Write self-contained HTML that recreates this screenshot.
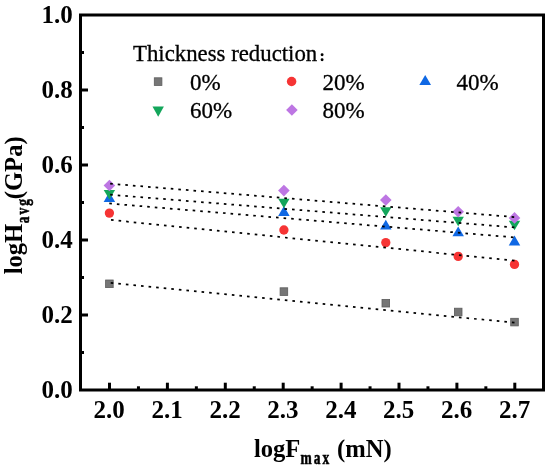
<!DOCTYPE html>
<html><head><meta charset="utf-8"><style>
html,body{margin:0;padding:0;background:#fff;width:550px;height:468px;overflow:hidden}
svg{display:block;will-change:transform}
.tl{font-family:"Liberation Serif",serif;font-weight:bold;font-size:25px;fill:#000}
.lg{font-family:"Liberation Serif",serif;font-size:23px;fill:#000}
.tt{font-family:"Liberation Serif",serif;font-weight:bold;font-size:24.6px;fill:#000}
.sub{font-family:"Liberation Serif",serif;font-weight:bold;font-size:18.5px;fill:#000;stroke:#000;stroke-width:0.35px}
</style></head><body>
<svg width="550" height="468" viewBox="0 0 550 468">
<rect width="550" height="468" fill="#fff"/>
<rect x="105.60" y="280.00" width="7.60" height="7.60" fill="#767676" stroke="#5c5c5c" stroke-width="0.8"/><rect x="280.10" y="287.80" width="7.60" height="7.60" fill="#767676" stroke="#5c5c5c" stroke-width="0.8"/><rect x="382.00" y="299.40" width="7.60" height="7.60" fill="#767676" stroke="#5c5c5c" stroke-width="0.8"/><rect x="454.40" y="308.20" width="7.60" height="7.60" fill="#767676" stroke="#5c5c5c" stroke-width="0.8"/><rect x="510.70" y="318.30" width="7.60" height="7.60" fill="#767676" stroke="#5c5c5c" stroke-width="0.8"/><circle cx="109.40" cy="213.10" r="4.65" fill="#f63434"/><circle cx="283.90" cy="230.00" r="4.65" fill="#f63434"/><circle cx="385.80" cy="242.60" r="4.65" fill="#f63434"/><circle cx="458.20" cy="256.40" r="4.65" fill="#f63434"/><circle cx="514.50" cy="264.40" r="4.65" fill="#f63434"/><path d="M109.40,192.10 L115.15,201.90 L103.65,201.90 Z" fill="#0f68e4"/><path d="M283.90,206.10 L289.65,215.90 L278.15,215.90 Z" fill="#0f68e4"/><path d="M385.80,219.70 L391.55,229.50 L380.05,229.50 Z" fill="#0f68e4"/><path d="M458.20,226.40 L463.95,236.20 L452.45,236.20 Z" fill="#0f68e4"/><path d="M514.50,235.60 L520.25,245.40 L508.75,245.40 Z" fill="#0f68e4"/><path d="M103.70,189.95 L115.10,189.95 L109.40,199.45 Z" fill="#13a65b"/><path d="M278.20,198.85 L289.60,198.85 L283.90,208.35 Z" fill="#13a65b"/><path d="M380.10,207.35 L391.50,207.35 L385.80,216.85 Z" fill="#13a65b"/><path d="M452.50,216.75 L463.90,216.75 L458.20,226.25 Z" fill="#13a65b"/><path d="M508.80,220.85 L520.20,220.85 L514.50,230.35 Z" fill="#13a65b"/><path d="M109.40,179.70 L115.20,185.50 L109.40,191.30 L103.60,185.50 Z" fill="#bd76e3"/><path d="M283.90,184.80 L289.70,190.60 L283.90,196.40 L278.10,190.60 Z" fill="#bd76e3"/><path d="M385.80,194.20 L391.60,200.00 L385.80,205.80 L380.00,200.00 Z" fill="#bd76e3"/><path d="M458.20,205.90 L464.00,211.70 L458.20,217.50 L452.40,211.70 Z" fill="#bd76e3"/><path d="M514.50,212.10 L520.30,217.90 L514.50,223.70 L508.70,217.90 Z" fill="#bd76e3"/><line x1="110.71" y1="282.97" x2="514.49" y2="322.73" stroke="#000" stroke-width="1.75" stroke-dasharray="2.6 5.0064"/><line x1="111.01" y1="219.97" x2="514.49" y2="260.63" stroke="#000" stroke-width="1.75" stroke-dasharray="2.6 5.0025"/><line x1="109.30" y1="203.49" x2="513.50" y2="237.31" stroke="#000" stroke-width="1.75" stroke-dasharray="2.6 5.0038"/><line x1="110.15" y1="194.70" x2="514.40" y2="227.40" stroke="#000" stroke-width="1.75" stroke-dasharray="2.6 5.0031"/><line x1="110.15" y1="183.69" x2="514.20" y2="217.01" stroke="#000" stroke-width="1.75" stroke-dasharray="2.6 5.0002"/>
<rect x="80.5" y="15" width="463" height="375" fill="none" stroke="#000" stroke-width="3"/>
<line x1="80" y1="315.0" x2="88" y2="315.0" stroke="#000" stroke-width="3"/><line x1="80" y1="240.0" x2="88" y2="240.0" stroke="#000" stroke-width="3"/><line x1="80" y1="164.99999999999997" x2="88" y2="164.99999999999997" stroke="#000" stroke-width="3"/><line x1="80" y1="90.0" x2="88" y2="90.0" stroke="#000" stroke-width="3"/><line x1="80" y1="352.5" x2="84" y2="352.5" stroke="#000" stroke-width="3"/><line x1="80" y1="277.5" x2="84" y2="277.5" stroke="#000" stroke-width="3"/><line x1="80" y1="202.5" x2="84" y2="202.5" stroke="#000" stroke-width="3"/><line x1="80" y1="127.5" x2="84" y2="127.5" stroke="#000" stroke-width="3"/><line x1="80" y1="52.5" x2="84" y2="52.5" stroke="#000" stroke-width="3"/><line x1="109.50" y1="390" x2="109.50" y2="382.7" stroke="#000" stroke-width="3"/><line x1="167.40" y1="390" x2="167.40" y2="382.7" stroke="#000" stroke-width="3"/><line x1="225.30" y1="390" x2="225.30" y2="382.7" stroke="#000" stroke-width="3"/><line x1="283.20" y1="390" x2="283.20" y2="382.7" stroke="#000" stroke-width="3"/><line x1="341.10" y1="390" x2="341.10" y2="382.7" stroke="#000" stroke-width="3"/><line x1="399.00" y1="390" x2="399.00" y2="382.7" stroke="#000" stroke-width="3"/><line x1="456.90" y1="390" x2="456.90" y2="382.7" stroke="#000" stroke-width="3"/><line x1="514.80" y1="390" x2="514.80" y2="382.7" stroke="#000" stroke-width="3"/><line x1="138.45" y1="390" x2="138.45" y2="386.3" stroke="#000" stroke-width="3"/><line x1="196.35" y1="390" x2="196.35" y2="386.3" stroke="#000" stroke-width="3"/><line x1="254.25" y1="390" x2="254.25" y2="386.3" stroke="#000" stroke-width="3"/><line x1="312.15" y1="390" x2="312.15" y2="386.3" stroke="#000" stroke-width="3"/><line x1="370.05" y1="390" x2="370.05" y2="386.3" stroke="#000" stroke-width="3"/><line x1="427.95" y1="390" x2="427.95" y2="386.3" stroke="#000" stroke-width="3"/><line x1="485.85" y1="390" x2="485.85" y2="386.3" stroke="#000" stroke-width="3"/>
<text x="72.7" y="397.9" text-anchor="end" class="tl" style="font-size:25.0px">0.0</text><text x="72.7" y="322.9" text-anchor="end" class="tl" style="font-size:25.0px">0.2</text><text x="72.7" y="247.9" text-anchor="end" class="tl" style="font-size:25.0px">0.4</text><text x="72.7" y="172.9" text-anchor="end" class="tl" style="font-size:25.0px">0.6</text><text x="72.7" y="97.9" text-anchor="end" class="tl" style="font-size:25.0px">0.8</text><text x="72.7" y="22.9" text-anchor="end" class="tl" style="font-size:25.0px">1.0</text><text x="109.2" y="418.1" text-anchor="middle" class="tl" style="font-size:25.0px">2.0</text><text x="167.1" y="418.1" text-anchor="middle" class="tl" style="font-size:25.0px">2.1</text><text x="225.0" y="418.1" text-anchor="middle" class="tl" style="font-size:25.0px">2.2</text><text x="282.9" y="418.1" text-anchor="middle" class="tl" style="font-size:25.0px">2.3</text><text x="340.8" y="418.1" text-anchor="middle" class="tl" style="font-size:25.0px">2.4</text><text x="398.7" y="418.1" text-anchor="middle" class="tl" style="font-size:25.0px">2.5</text><text x="456.6" y="418.1" text-anchor="middle" class="tl" style="font-size:25.0px">2.6</text><text x="514.5" y="418.1" text-anchor="middle" class="tl" style="font-size:25.0px">2.7</text>

<text x="133" y="60.8" class="lg" style="font-size:22.8px;stroke:#000;stroke-width:0.3px">Thickness reduction</text>
<circle cx="322.1" cy="54.7" r="1.45" fill="#000"/><circle cx="322.1" cy="59.7" r="1.45" fill="#000"/>
<rect x="154.30" y="77.80" width="7.60" height="7.60" fill="#767676" stroke="#5c5c5c" stroke-width="0.8"/>
<text x="190" y="89.5" class="lg" style="font-size:23.0px;stroke:#000;stroke-width:0.3px">0%</text>
<circle cx="291.60" cy="81.50" r="4.75" fill="#f63434"/>
<text x="322.5" y="89.5" class="lg" style="font-size:23.0px;stroke:#000;stroke-width:0.3px">20%</text>
<path d="M425.20,74.90 L431.05,84.90 L419.35,84.90 Z" fill="#0f68e4"/>
<text x="456.5" y="89.5" class="lg" style="font-size:23.0px;stroke:#000;stroke-width:0.3px">40%</text>
<path d="M152.50,106.60 L163.90,106.60 L158.20,116.80 Z" fill="#13a65b"/>
<text x="190" y="117.7" class="lg" style="font-size:23.0px;stroke:#000;stroke-width:0.3px">60%</text>
<path d="M291.90,104.20 L297.70,110.00 L291.90,115.80 L286.10,110.00 Z" fill="#bd76e3"/>
<text x="322.5" y="117.7" class="lg" style="font-size:23.0px;stroke:#000;stroke-width:0.3px">80%</text>


<text x="253.9" y="456.8" class="tt" style="font-size:24.6px">logF</text>
<text transform="translate(300.5,463.6) scale(0.73,1)" class="sub" style="font-size:18.5px;letter-spacing:2.7px;stroke:#000;stroke-width:0.55px">max</text>
<text x="337.0" y="456.8" class="tt" style="font-size:24.6px">(mN)</text>
<g transform="translate(0,468) rotate(-90)">
<text x="193.7" y="21.7" class="tt" style="font-size:24.6px">logH</text>
<text transform="translate(244.7,28.7) scale(0.73,1)" class="sub" style="font-size:18.5px;letter-spacing:2.7px;stroke:#000;stroke-width:0.55px">avg</text>
<text x="268.8" y="21.7" class="tt" style="font-size:24.6px">(GPa)</text>
</g>

</svg>
</body></html>
